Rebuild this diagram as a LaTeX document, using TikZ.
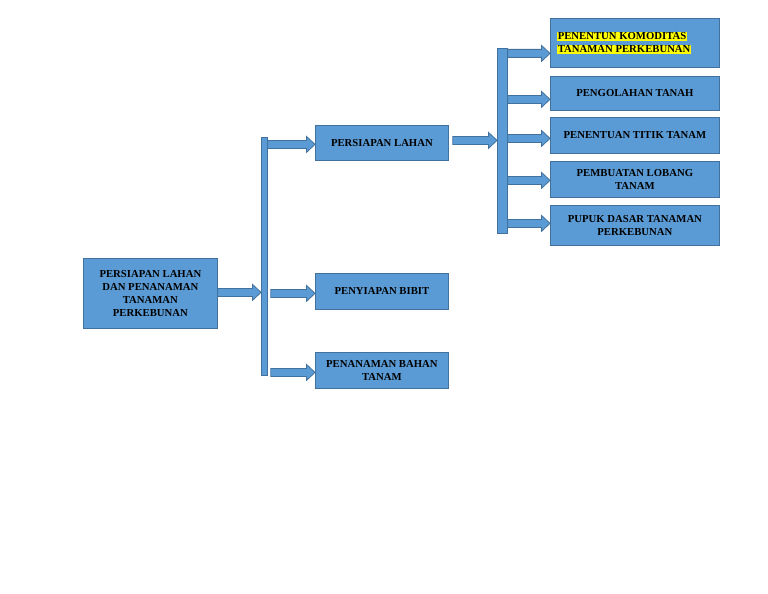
\documentclass[tikz,border=0pt]{standalone}
\usepackage{fontspec}
\setmainfont{Liberation Serif}
\usetikzlibrary{calc}
\definecolor{boxfill}{HTML}{5B9BD5}
\definecolor{boxline}{HTML}{41719C}
\definecolor{hlyellow}{HTML}{FFFF00}
\tikzset{
  box/.style={draw=boxline, fill=boxfill, line width=0.8pt, anchor=north west,
    inner sep=0pt, align=center, font=\fontsize{10.7}{13}\selectfont\bfseries},
  barshape/.style={draw=boxline, fill=boxfill, line width=0.8pt, anchor=north west, inner sep=0pt},
  blockarr/.style={draw=boxline, fill=boxfill, line width=0.8pt, line join=miter}
}
\newcommand\blockarrow[2]{%
  \path[blockarr] let \p1=#1, \p2=#2 in
    (\x1,\y1+4pt) -- (\x2-8.5pt,\y1+4pt) -- (\x2-8.5pt,\y1+8pt) -- (\x2,\y1)
    -- (\x2-8.5pt,\y1-8pt) -- (\x2-8.5pt,\y1-4pt) -- (\x1,\y1-4pt) -- cycle;}
\newcommand\hlline[1]{{\setlength{\fboxsep}{0.6pt}\colorbox{hlyellow}{#1}}}
\begin{document}
\begin{tikzpicture}[x=1pt,y=-1pt]
\useasboundingbox (0,0) rectangle (768,594);
% boxes
\node[box, minimum width=134pt, minimum height=70pt] (main) at (83,258)
  {PERSIAPAN LAHAN\\DAN PENANAMAN\\TANAMAN\\PERKEBUNAN};
\node[barshape, minimum width=6pt, minimum height=238pt] (bar1) at (261,137) {};
\node[box, minimum width=133pt, minimum height=35pt] (pl) at (315,125) {PERSIAPAN LAHAN};
\node[box, minimum width=133pt, minimum height=36pt] (pb) at (315,273) {PENYIAPAN BIBIT};
\node[box, minimum width=133pt, minimum height=36pt] (pbt) at (315,352) {PENANAMAN BAHAN\\TANAM};
\node[barshape, minimum width=10pt, minimum height=185pt] (bar2) at (497,48) {};
\node[box, minimum width=169pt, minimum height=49pt] (r1) at (550,18) {};
\node[anchor=north west, inner sep=0pt, align=left,
  font=\fontsize{10.7}{13}\selectfont\bfseries] (r1t) at (557,32)
  {\hlline{PENENTUN KOMODITAS}\\\hlline{TANAMAN PERKEBUNAN}};
\node[box, minimum width=169pt, minimum height=34pt] (r2) at (550,76) {PENGOLAHAN TANAH};
\node[box, minimum width=169pt, minimum height=36pt] (r3) at (550,117) {PENENTUAN TITIK TANAM};
\node[box, minimum width=169pt, minimum height=36pt] (r4) at (550,161) {PEMBUATAN LOBANG\\TANAM};
\node[box, minimum width=169pt, minimum height=40pt] (r5) at (550,205) {PUPUK DASAR TANAMAN\\PERKEBUNAN};
% arrows
\blockarrow{([yshift=1pt]main.east)}{(bar1.west)}
\blockarrow{([yshift=-1.5pt]bar1.east |- pl.west)}{(pl.west)}
\blockarrow{([xshift=3pt,yshift=-2pt]bar1.east |- pb.west)}{(pb.west)}
\blockarrow{([xshift=3pt,yshift=-2pt]bar1.east |- pbt.west)}{(pbt.west)}
\blockarrow{([xshift=4pt,yshift=2.5pt]pl.east)}{(bar2.west)}
\blockarrow{([yshift=-10.5pt]bar2.east |- r1.west)}{(r1.west)}
\blockarrow{([yshift=-6pt]bar2.east |- r2.west)}{(r2.west)}
\blockarrow{([yshift=-3pt]bar2.east |- r3.west)}{(r3.west)}
\blockarrow{([yshift=-1pt]bar2.east |- r4.west)}{(r4.west)}
\blockarrow{([yshift=2pt]bar2.east |- r5.west)}{(r5.west)}
\end{tikzpicture}
\end{document}
